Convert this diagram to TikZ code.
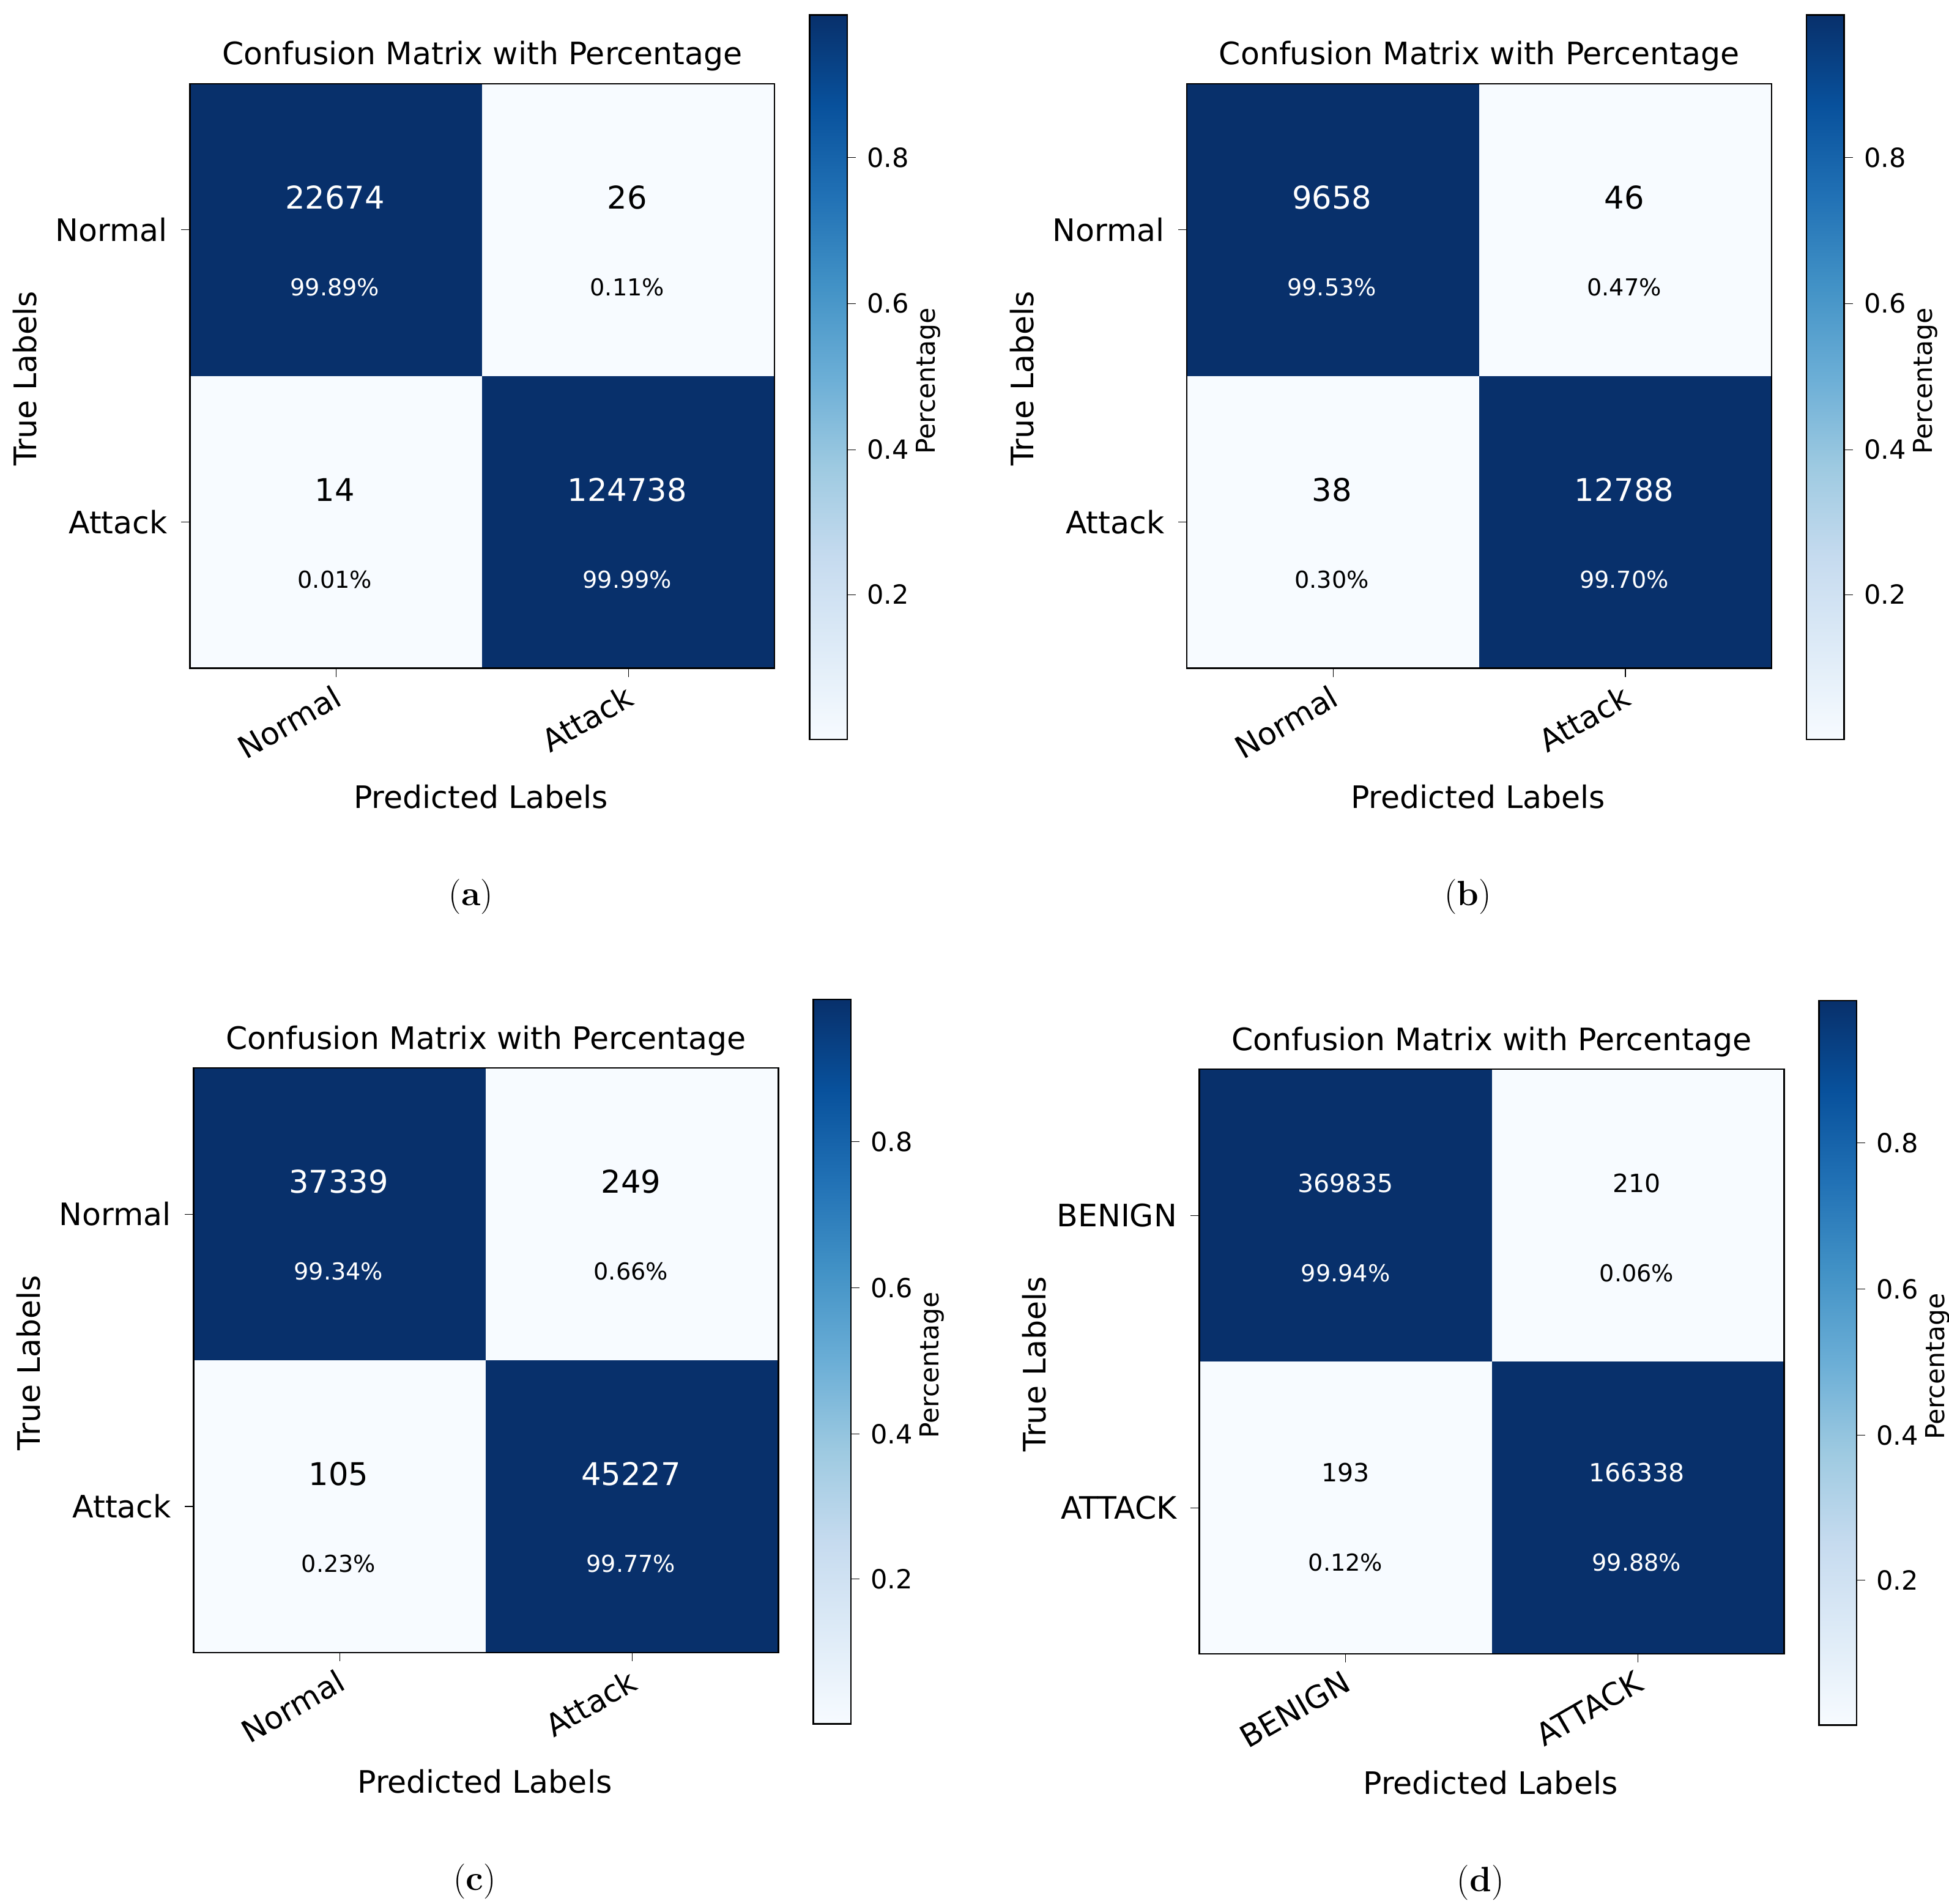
\documentclass[tikz,border=0pt]{standalone}
\usepackage{fontspec}
\setsansfont{DejaVu Sans}
\definecolor{bdark}{HTML}{08306B}
\definecolor{blight}{HTML}{F7FBFF}
\definecolor{c1}{HTML}{DEEBF7}\definecolor{c2}{HTML}{C6DBEF}\definecolor{c3}{HTML}{9ECAE1}
\definecolor{c4}{HTML}{6BAED6}\definecolor{c5}{HTML}{4292C6}\definecolor{c6}{HTML}{2171B5}\definecolor{c7}{HTML}{08519C}
\pgfdeclareverticalshading{blues}{100bp}{color(0bp)=(blight); color(25bp)=(blight); color(31.25bp)=(c1); color(37.5bp)=(c2); color(43.75bp)=(c3); color(50bp)=(c4); color(56.25bp)=(c5); color(62.5bp)=(c6); color(68.75bp)=(c7); color(75bp)=(bdark); color(100bp)=(bdark)}
\tikzset{
 ttl/.style={font=\sffamily\fontsize{17.6}{20}\selectfont},
 tick/.style={font=\sffamily\fontsize{17.6}{20}\selectfont},
 num/.style={font=\sffamily\fontsize{17.8}{20}\selectfont},
 numd/.style={font=\sffamily\fontsize{14.3}{16}\selectfont},
 pct/.style={font=\sffamily\fontsize{13.3}{15}\selectfont},
 cbt/.style={font=\sffamily\fontsize{15}{17}\selectfont, anchor=west},
 captxt/.style={font=\fontsize{20}{24}\selectfont},
}
\newcommand\cmframe[6]{%
 \begin{scope}[shift={(#2,#3)}]
 \fill[blight] (152,67) rectangle (620,535);
 \fill[bdark] (152,67) rectangle (386,301);
 \fill[bdark] (386,301) rectangle (620,535);
 \draw[line width=0.8pt] (152,67) rectangle (620,535);
 \node[ttl] (#1title) at (386,45) {Confusion Matrix with Percentage};
 \draw (145,184) -- (152,184); \draw (145,418) -- (152,418);
 \node[tick,anchor=east] (#1yl1) at (139,184) {#4};
 \node[tick,anchor=east] (#1yl2) at (139,418) {#5};
 \draw (269,535) -- (269,542); \draw (503,535) -- (503,542);
 \node[tick,rotate=30,anchor=north east,inner sep=1pt] (#1xl1) at (266,545) {#4};
 \node[tick,rotate=30,anchor=north east,inner sep=1pt] (#1xl2) at (500,545) {#5};
 \node[tick] (#1xlab) at (385,638) {Predicted Labels};
 \node[tick,rotate=90] (#1ylab) at (20,303) {True Labels};
 \shade[shading=blues] (648,12) rectangle (678,592);
 \draw[line width=0.8pt] (648,12) rectangle (678,592);
 \foreach \v/\yy in {0.8/126,0.6/243,0.4/360,0.2/476}{\draw (678,\yy) -- (685,\yy); \node[cbt] at (689,\yy) {\v};}
 \node[font=\sffamily\fontsize{14.8}{17}\selectfont,rotate=90] (#1cbl) at (743,305) {Percentage};
 \node[captxt] (#1cap) at (377,718) {(\textbf{#6})};
 \end{scope}}
\newcommand\cmcell[7]{\node[#7,text=#6] (#1n) at (#2,#3) {#4}; \node[pct,text=#6] (#1p) at (#2,{#3+72}) {#5};}
\begin{document}
\begin{tikzpicture}[x=0.025cm,y=-0.025cm]
\useasboundingbox (0,0) rectangle (1560,1524);
\cmframe{a}{0}{0}{Normal}{Attack}{a}
\cmcell{a11}{268}{158}{22674}{99.89\%}{white}{num}
\cmcell{a12}{502}{158}{26}{0.11\%}{black}{num}
\cmcell{a21}{268}{392}{14}{0.01\%}{black}{num}
\cmcell{a22}{502}{392}{124738}{99.99\%}{white}{num}
\cmframe{b}{798}{0}{Normal}{Attack}{b}
\cmcell{b11}{1066}{158}{9658}{99.53\%}{white}{num}
\cmcell{b12}{1300}{158}{46}{0.47\%}{black}{num}
\cmcell{b21}{1066}{392}{38}{0.30\%}{black}{num}
\cmcell{b22}{1300}{392}{12788}{99.70\%}{white}{num}
\cmframe{c}{3}{788}{Normal}{Attack}{c}
\cmcell{c11}{271}{946}{37339}{99.34\%}{white}{num}
\cmcell{c12}{505}{946}{249}{0.66\%}{black}{num}
\cmcell{c21}{271}{1180}{105}{0.23\%}{black}{num}
\cmcell{c22}{505}{1180}{45227}{99.77\%}{white}{num}
\cmframe{d}{808}{789}{BENIGN}{ATTACK}{d}
\cmcell{d11}{1077}{947}{369835}{99.94\%}{white}{numd}
\cmcell{d12}{1310}{947}{210}{0.06\%}{black}{numd}
\cmcell{d21}{1077}{1179}{193}{0.12\%}{black}{numd}
\cmcell{d22}{1310}{1179}{166338}{99.88\%}{white}{numd}
\end{tikzpicture}
\end{document}
